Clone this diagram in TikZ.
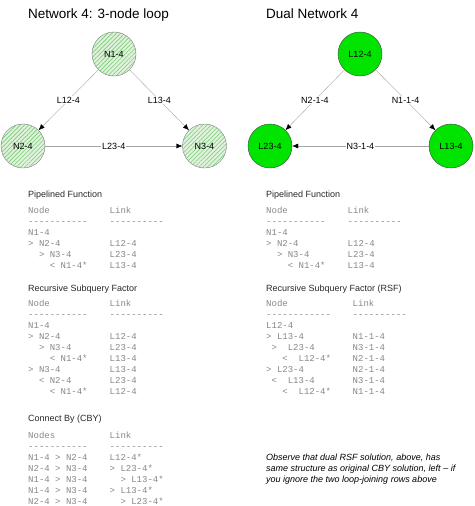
\documentclass[tikz,border=0pt]{standalone}
\usepackage{fontspec}
\setmainfont{Liberation Sans}
\setmonofont{Liberation Mono}
\usetikzlibrary{arrows.meta,patterns.meta}
\definecolor{hatchgreen}{RGB}{125,200,125}
\definecolor{paleg}{RGB}{222,243,218}
\definecolor{dualgreen}{RGB}{0,228,0}
\definecolor{edgegray}{RGB}{165,165,165}
\definecolor{codegray}{RGB}{135,135,135}
\definecolor{headgray}{RGB}{40,40,40}
\begin{document}
\begin{tikzpicture}[x=1pt,y=-1pt,
  netnode/.style={circle,draw=gray,minimum size=44pt,inner sep=0pt,font=\fontsize{9}{11}\selectfont},
  hatched/.style={netnode,preaction={fill=paleg},
    pattern={Lines[angle=45,distance=3pt,line width=0.6pt]},pattern color=hatchgreen},
  dualnode/.style={netnode,fill=dualgreen,draw=darkgray},
  link/.style={draw=edgegray,-{Latex[length=6pt,width=5pt,color=black]}},
  linklabel/.style={fill=white,inner sep=1pt,font=\fontsize{9}{11}\selectfont},
  title/.style={anchor=base west,inner sep=0pt,font=\fontsize{13.5}{16}\selectfont},
  heading/.style={anchor=base west,inner sep=0pt,text=headgray,font=\fontsize{9}{11}\selectfont},
  code/.style={anchor=base west,inner sep=0pt,text=codegray,font=\ttfamily\fontsize{9}{11}\selectfont},
  note/.style={anchor=base west,inner sep=0pt,font=\itshape\fontsize{9}{11}\selectfont}]
  \useasboundingbox (0,0) rectangle (474,506);

  % original network
  \node[title] (ttla) at (28,18) {Network 4: 3-node loop};
  \node[hatched] (n1) at (114,54) {N1-4};
  \node[hatched] (n2) at (23,146) {N2-4};
  \node[hatched] (n3) at (204.5,146) {N3-4};
  \draw[link] (n1) -- node[linklabel] (l12) {L12-4} (n2);
  \draw[link] (n1) -- node[linklabel] (l13) {L13-4} (n3);
  \draw[link] (n2) -- node[linklabel] (l23) {L23-4} (n3);

  % dual network
  \node[title] (ttlb) at (266,18) {Dual Network 4};
  \node[dualnode] (d12) at (360,54) {L12-4};
  \node[dualnode] (d23) at (270,146) {L23-4};
  \node[dualnode] (d13) at (451,146) {L13-4};
  \draw[link] (d12) -- node[linklabel] (m2) {N2-1-4} (d23);
  \draw[link] (d12) -- node[linklabel] (m1) {N1-1-4} (d13);
  \draw[link] (d13) -- node[linklabel] (m3) {N3-1-4} (d23);

  % pipelined function
  \node[heading] (pfha) at (28,197) {Pipelined Function};
  \node[heading] (pfhb) at (266,197) {Pipelined Function};
  \foreach \nd/\lk [count=\r] in {Node/Link, {-----------}/{----------}, N1-4/{},
      {>~N2-4}/L12-4, {~~>~N3-4}/L23-4, {~~~~<~N1-4*}/L13-4} {
    \node[code] (pfa\r) at (28,202.5+11*\r) {\nd};
    \node[code] (pfb\r) at (109.5,202.5+11*\r) {\lk};
    \node[code] (pfc\r) at (266,202.5+11*\r) {\nd};
    \node[code] (pfd\r) at (347.5,202.5+11*\r) {\lk};
  }

  % recursive subquery factor
  \node[heading] (rsfha) at (28,291) {Recursive Subquery Factor};
  \foreach \nd/\lk [count=\r] in {Node/Link, {-----------}/{----------}, N1-4/{},
      {>~N2-4}/L12-4, {~~>~N3-4}/L23-4, {~~~~<~N1-4*}/L13-4,
      {>~N3-4}/L13-4, {~~<~N2-4}/L23-4, {~~~~<~N1-4*}/L12-4} {
    \node[code] (rsfa\r) at (28,295+11*\r) {\nd};
    \node[code] (rsfb\r) at (109.5,295+11*\r) {\lk};
  }
  \node[heading] (rsfhb) at (266,291) {Recursive Subquery Factor (RSF)};
  \foreach \nd/\lk [count=\r] in {Node/Link, {------------}/{----------}, L12-4/{},
      {>~L13-4}/N1-1-4, {~>~~L23-4}/N3-1-4, {~~~<~~L12-4*}/N2-1-4,
      {>~L23-4}/N2-1-4, {~<~~L13-4}/N3-1-4, {~~~<~~L12-4*}/N1-1-4} {
    \node[code] (rsfc\r) at (266,295+11*\r) {\nd};
    \node[code] (rsfd\r) at (352.5,295+11*\r) {\lk};
  }

  % connect by
  \node[heading] (cbyh) at (28,421) {Connect By (CBY)};
  \foreach \nd/\lk [count=\r] in {Nodes/Link, {-----------}/{----------},
      {N1-4~>~N2-4}/L12-4*, {N2-4~>~N3-4}/{>~L23-4*}, {N1-4~>~N3-4}/{~~>~L13-4*},
      {N1-4~>~N3-4}/{>~L13-4*}, {N2-4~>~N3-4}/{~~>~L23-4*}} {
    \node[code] (cbya\r) at (28,427+11*\r) {\nd};
    \node[code] (cbyb\r) at (109.5,427+11*\r) {\lk};
  }

  % remark
  \node[note] (rema) at (266,460) {Observe that dual RSF solution, above, has};
  \node[note] (remb) at (266,471) {same structure as original CBY solution, left – if};
  \node[note] (remc) at (266,482) {you ignore the two loop-joining rows above};
\end{tikzpicture}
\end{document}
